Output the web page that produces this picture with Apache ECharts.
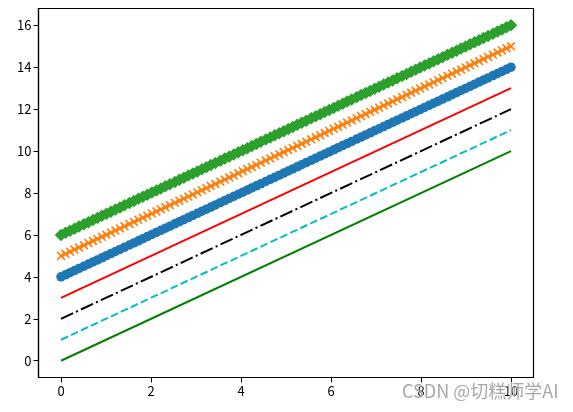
<!DOCTYPE html>
<html>
<head>
<meta charset="utf-8">
<script src="https://cdn.jsdelivr.net/npm/echarts@6/dist/echarts.min.js"></script>
<style>html,body{margin:0;padding:0;background:#fff}#c{width:573px;height:412px}</style>
</head>
<body>
<div id="c"></div>
<script>
// x sample points (100 points from 0 to 10)
const xs = [0,0.10,0.20,0.30,0.40,0.51,0.61,0.71,0.81,0.91,1.01,1.11,1.21,1.31,1.41,1.52,1.62,1.72,1.82,1.92,2.02,2.12,2.22,2.32,2.42,2.53,2.63,2.73,2.83,2.93,3.03,3.13,3.23,3.33,3.43,3.54,3.64,3.74,3.84,3.94,4.04,4.14,4.24,4.34,4.44,4.55,4.65,4.75,4.85,4.95,5.05,5.15,5.25,5.35,5.45,5.56,5.66,5.76,5.86,5.96,6.06,6.16,6.26,6.36,6.46,6.57,6.67,6.77,6.87,6.97,7.07,7.17,7.27,7.37,7.47,7.58,7.68,7.78,7.88,7.98,8.08,8.18,8.28,8.38,8.48,8.59,8.69,8.79,8.89,8.99,9.09,9.19,9.29,9.39,9.49,9.60,9.70,9.80,9.90,10];
// straight lines (endpoints)
const lineX = [0, 10];
const greenLine = [0, 10];
const cyanLine = [1, 11];
const blackLine = [2, 12];
const redLine = [3, 13];
// marker series
const blueCircles = [4,4.10,4.20,4.30,4.40,4.51,4.61,4.71,4.81,4.91,5.01,5.11,5.21,5.31,5.41,5.52,5.62,5.72,5.82,5.92,6.02,6.12,6.22,6.32,6.42,6.53,6.63,6.73,6.83,6.93,7.03,7.13,7.23,7.33,7.43,7.54,7.64,7.74,7.84,7.94,8.04,8.14,8.24,8.34,8.44,8.55,8.65,8.75,8.85,8.95,9.05,9.15,9.25,9.35,9.45,9.56,9.66,9.76,9.86,9.96,10.06,10.16,10.26,10.36,10.46,10.57,10.67,10.77,10.87,10.97,11.07,11.17,11.27,11.37,11.47,11.58,11.68,11.78,11.88,11.98,12.08,12.18,12.28,12.38,12.48,12.59,12.69,12.79,12.89,12.99,13.09,13.19,13.29,13.39,13.49,13.60,13.70,13.80,13.90,14];
const orangeCrosses = [5,5.10,5.20,5.30,5.40,5.51,5.61,5.71,5.81,5.91,6.01,6.11,6.21,6.31,6.41,6.52,6.62,6.72,6.82,6.92,7.02,7.12,7.22,7.32,7.42,7.53,7.63,7.73,7.83,7.93,8.03,8.13,8.23,8.33,8.43,8.54,8.64,8.74,8.84,8.94,9.04,9.14,9.24,9.34,9.44,9.55,9.65,9.75,9.85,9.95,10.05,10.15,10.25,10.35,10.45,10.56,10.66,10.76,10.86,10.96,11.06,11.16,11.26,11.36,11.46,11.57,11.67,11.77,11.87,11.97,12.07,12.17,12.27,12.37,12.47,12.58,12.68,12.78,12.88,12.98,13.08,13.18,13.28,13.38,13.48,13.59,13.69,13.79,13.89,13.99,14.09,14.19,14.29,14.39,14.49,14.60,14.70,14.80,14.90,15];
const greenDiamonds = [6,6.10,6.20,6.30,6.40,6.51,6.61,6.71,6.81,6.91,7.01,7.11,7.21,7.31,7.41,7.52,7.62,7.72,7.82,7.92,8.02,8.12,8.22,8.32,8.42,8.53,8.63,8.73,8.83,8.93,9.03,9.13,9.23,9.33,9.43,9.54,9.64,9.74,9.84,9.94,10.04,10.14,10.24,10.34,10.44,10.55,10.65,10.75,10.85,10.95,11.05,11.15,11.25,11.35,11.45,11.56,11.66,11.76,11.86,11.96,12.06,12.16,12.26,12.36,12.46,12.57,12.67,12.77,12.87,12.97,13.07,13.17,13.27,13.37,13.47,13.58,13.68,13.78,13.88,13.98,14.08,14.18,14.28,14.38,14.48,14.59,14.69,14.79,14.89,14.99,15.09,15.19,15.29,15.39,15.49,15.60,15.70,15.80,15.90,16];
const xTicks = [0, 2, 4, 6, 8, 10];
const yTicks = [0, 2, 4, 6, 8, 10, 12, 14, 16];
const watermark = 'CSDN @切糕师学AI';

const pair = (xa, ya) => xa.map((x, i) => [x, ya[i]]);
const FONT = '"Noto Sans CJK SC", "DejaVu Sans", sans-serif';
const crossPath = 'path://M0,1.3L1.3,0L5,3.7L8.7,0L10,1.3L6.3,5L10,8.7L8.7,10L5,6.3L1.3,10L0,8.7L3.7,5Z';

const chart = echarts.init(document.getElementById('c'), null, {renderer: 'canvas'});
chart.setOption({
  animation: false,
  backgroundColor: '#fff',
  grid: {left: 38.5, top: 8.5, width: 495, height: 369, show: true, borderColor: '#000', borderWidth: 1.2, backgroundColor: 'transparent'},
  xAxis: {
    type: 'value', min: -0.5, max: 10.5,
    axisLine: {show: true, onZero: false, lineStyle: {color: '#000', width: 1.2}},
    axisTick: {show: true, length: 5, customValues: xTicks, lineStyle: {color: '#000'}},
    axisLabel: {customValues: xTicks, color: '#000', fontSize: 13, fontFamily: FONT, margin: 7},
    splitLine: {show: false}
  },
  yAxis: {
    type: 'value', min: -0.8, max: 16.8,
    axisLine: {show: true, onZero: false, lineStyle: {color: '#000', width: 1.2}},
    axisTick: {show: true, length: 5, customValues: yTicks, lineStyle: {color: '#000'}},
    axisLabel: {customValues: yTicks, color: '#000', fontSize: 13, fontFamily: FONT, margin: 7},
    splitLine: {show: false}
  },
  series: [
    {type: 'line', data: pair(lineX, greenLine), symbol: 'none', lineStyle: {color: '#008000', width: 2}},
    {type: 'line', data: pair(lineX, cyanLine), symbol: 'none', lineStyle: {color: '#00bfbf', width: 2, type: [7.7, 3.3]}},
    {type: 'line', data: pair(lineX, blackLine), symbol: 'none', lineStyle: {color: '#000', width: 2, type: [13.3, 3.3, 2.1, 3.3]}},
    {type: 'line', data: pair(lineX, redLine), symbol: 'none', lineStyle: {color: '#ff0000', width: 2}},
    {type: 'line', data: pair(xs, blueCircles), symbol: 'circle', symbolSize: 9.5, showAllSymbol: true,
      itemStyle: {color: '#1f77b4', borderWidth: 0}, lineStyle: {color: '#1f77b4', width: 2}},
    {type: 'line', data: pair(xs, orangeCrosses), symbol: crossPath, symbolSize: 9, showAllSymbol: true,
      itemStyle: {color: '#ff7f0e', borderWidth: 0}, lineStyle: {color: '#ff7f0e', width: 2}},
    {type: 'line', data: pair(xs, greenDiamonds), symbol: 'diamond', symbolSize: 12.5, showAllSymbol: true,
      itemStyle: {color: '#2ca02c', borderWidth: 0}, lineStyle: {color: '#2ca02c', width: 2}}
  ],
  graphic: [{
    type: 'text', right: 14, top: 382, z: 100,
    style: {text: watermark, fontSize: 18, fontFamily: FONT, fill: 'rgba(150,150,150,0.85)', stroke: 'rgba(255,255,255,0.6)', lineWidth: 1}
  }]
});
</script>
</body>
</html>
